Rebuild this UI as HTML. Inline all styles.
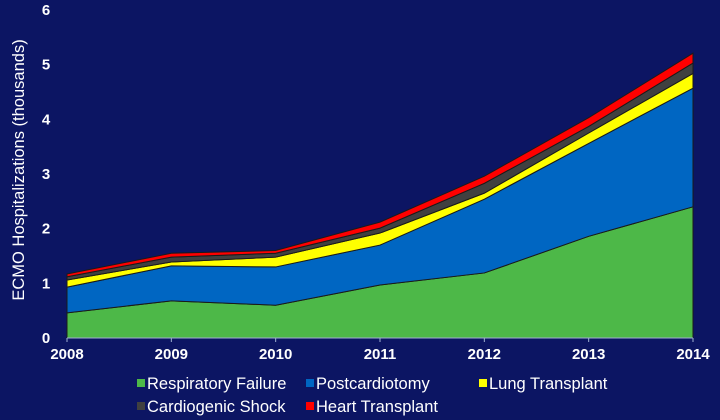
<!DOCTYPE html>
<html><head><meta charset="utf-8"><style>
html,body{margin:0;padding:0;background:#0c1563;}
svg{display:block;font-family:"Liberation Sans",Arial,sans-serif;}
</style></head><body>
<svg id="c" width="720" height="420" viewBox="0 0 720 420">
<rect width="720" height="420" fill="#0c1563"/>
<g id="areas"></g>
<g id="axes"></g>
<text transform="translate(24,170) rotate(-90)" text-anchor="middle" fill="#fff" font-size="16.5">ECMO Hospitalizations (thousands)</text>
<g id="legend"></g>
</svg>
<script>
const years = [2008, 2009, 2010, 2011, 2012, 2013, 2014];
const respiratory = [0.46, 0.68, 0.60, 0.97, 1.19, 1.86, 2.40];
const postcardiotomy = [0.47, 0.64, 0.70, 0.73, 1.35, 1.70, 2.17];
const lung = [0.13, 0.07, 0.18, 0.22, 0.11, 0.19, 0.27];
const cardiogenic = [0.06, 0.09, 0.07, 0.09, 0.18, 0.12, 0.19];
const heart = [0.05, 0.07, 0.05, 0.11, 0.13, 0.16, 0.18];
const yTicks = [0, 1, 2, 3, 4, 5, 6];
const seriesNames = ["Respiratory Failure", "Postcardiotomy", "Lung Transplant", "Cardiogenic Shock", "Heart Transplant"];

const NS = "http://www.w3.org/2000/svg";
const colors = ["#4db848", "#0066c2", "#ffff00", "#404040", "#ff0000"];
const x0 = 67, x1 = 693, yb = 338, yt = 10;
const xs = i => x0 + (x1 - x0) * (years[i] - years[0]) / (years[years.length - 1] - years[0]);
const ys = v => yb - (yb - yt) * v / 6;
function mk(tag, attrs, parent) { const e = document.createElementNS(NS, tag); for (const k in attrs) e.setAttribute(k, attrs[k]); parent.appendChild(e); return e; }

const series = [respiratory, postcardiotomy, lung, cardiogenic, heart];
const areas = document.getElementById('areas');
let base = years.map(() => 0);
series.forEach((s, si) => {
  const top = base.map((b, i) => b + s[i]);
  let d = "M" + years.map((_, i) => xs(i) + "," + ys(top[i])).join(" L");
  for (let i = years.length - 1; i >= 0; i--) d += " L" + xs(i) + "," + ys(base[i]);
  d += " Z";
  const p = mk('path', { d: d, fill: colors[si], stroke: "#1a1a1a", "stroke-width": 1 }, areas);
  
  
  base = top;
});

const axes = document.getElementById('axes');
const xl = mk('line', { x1: x0, x2: x1, y1: yb, y2: yb, stroke: "#9fb0d0", "stroke-width": 1 }, axes);


years.forEach((y, i) => {
  const t = mk('line', { x1: xs(i), x2: xs(i), y1: yb, y2: yb + 4, stroke: "#9fb0d0" }, axes);
  
  
  const tx = mk('text', { x: xs(i), y: yb + 21, fill: "#fff", "font-size": 15, "font-weight": "bold", "text-anchor": "middle" }, axes);
  tx.textContent = y;
  
  
});
yTicks.forEach(v => {
  const tx = mk('text', { x: 46, y: ys(v) + 5, fill: "#fff", "font-size": 15, "font-weight": "bold", "text-anchor": "middle" }, axes);
  tx.textContent = v;
  
  
});

const legend = document.getElementById('legend');
const pos = [[137, 389], [306, 389], [479, 389], [137, 412], [306, 412]];
seriesNames.forEach((n, i) => {
  const g = mk('g', {}, legend);
  
  
  mk('rect', { x: pos[i][0], y: pos[i][1] - 10, width: 8, height: 8, fill: colors[i] }, g);
  const t = mk('text', { x: pos[i][0] + 10, y: pos[i][1], fill: "#fff", "font-size": 16.5 }, g);
  t.textContent = n;
});
</script>
</body></html>
